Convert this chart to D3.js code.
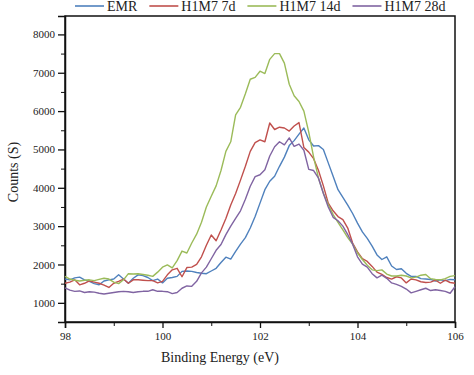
<!DOCTYPE html>
<meta charset="utf-8">
<style>
body { margin: 0; background: #fff; }
svg text { font-family: "Liberation Serif", "Times New Roman", serif; fill: #222; }
.axis text { font-size: 11px; }
.axis path, .axis line { stroke: #111; }
.series { fill: none; stroke-width: 1.4; stroke-linejoin: round; }
</style>
<svg width="474" height="375"></svg>
<script src="https://d3js.org/d3.v7.min.js"></script>
<script>
var energy = [98.0, 98.1, 98.2, 98.3, 98.4, 98.5, 98.6, 98.7, 98.8, 98.9,
  99.0, 99.1, 99.2, 99.3, 99.4, 99.5, 99.6, 99.7, 99.8, 99.9,
  100.0, 100.1, 100.2, 100.3, 100.4, 100.5, 100.6, 100.7, 100.8, 100.9,
  101.0, 101.1, 101.2, 101.3, 101.4, 101.5, 101.6, 101.7, 101.8, 101.9,
  102.0, 102.1, 102.2, 102.3, 102.4, 102.5, 102.6, 102.7, 102.8, 102.9,
  103.0, 103.1, 103.2, 103.3, 103.4, 103.5, 103.6, 103.7, 103.8, 103.9,
  104.0, 104.1, 104.2, 104.3, 104.4, 104.5, 104.6, 104.7, 104.8, 104.9,
  105.0, 105.1, 105.2, 105.3, 105.4, 105.5, 105.6, 105.7, 105.8, 105.9, 106.0];

var emr = [1620, 1600, 1650, 1670, 1600, 1560, 1500, 1470, 1570, 1600,
  1620, 1730, 1620, 1510, 1640, 1730, 1710, 1660, 1580, 1620,
  1520, 1640, 1660, 1690, 1820, 1830, 1820, 1790, 1770, 1760,
  1830, 1900, 2050, 2190, 2140, 2340, 2530, 2700, 2950, 3250,
  3600, 3950, 4170, 4300, 4560, 4800, 5100, 5230, 5400, 5560,
  5250, 5090, 5100, 5000, 4650, 4300, 3950, 3750, 3550, 3330,
  3080, 2850, 2680, 2480, 2250, 2130, 2200, 1960, 1870, 1890,
  1770, 1690, 1690, 1630, 1620, 1610, 1570, 1600, 1580, 1610, 1600];

var d7 = [1510, 1540, 1600, 1470, 1510, 1570, 1540, 1510, 1460, 1400,
  1510, 1560, 1620, 1510, 1600, 1600, 1590, 1580, 1580, 1520,
  1560, 1730, 1860, 1900, 1680, 1920, 1930, 2000, 2200, 2500,
  2770, 2620, 2900, 3200, 3550, 3850, 4200, 4560, 4950, 5180,
  5250, 5200, 5690, 5520, 5580, 5560, 5480, 5610, 5700, 5050,
  4930, 4760, 4450, 4050, 3600, 3400, 3250, 3170, 2950, 2560,
  2330, 2150, 2080, 1950, 1800, 1740, 1660, 1620, 1680, 1650,
  1520, 1620, 1600, 1550, 1530, 1540, 1590, 1510, 1590, 1530, 1510];

var d14 = [1690, 1620, 1590, 1570, 1590, 1600, 1580, 1610, 1640, 1620,
  1540, 1500, 1600, 1760, 1750, 1760, 1740, 1720, 1690, 1800,
  1930, 1990, 1910, 2100, 2350, 2300, 2560, 2790, 3100, 3500,
  3780, 4050, 4450, 4950, 5200, 5900, 6100, 6450, 6830, 6880,
  7040, 6980, 7350, 7500, 7500, 7250, 6700, 6400, 6250, 6000,
  5450, 4800, 4250, 3860, 3560, 3300, 3100, 2900, 2700, 2530,
  2300, 2130, 1980, 1860, 1840, 1860, 1750, 1700, 1700, 1720,
  1700, 1650, 1670, 1720, 1740, 1630, 1610, 1600, 1630, 1690, 1710];

var d28 = [1390, 1330, 1300, 1310, 1270, 1290, 1280, 1250, 1230, 1250,
  1270, 1290, 1300, 1290, 1270, 1290, 1300, 1300, 1340, 1300,
  1300, 1290, 1240, 1270, 1380, 1440, 1430, 1560, 1780, 1930,
  2150, 2370, 2520, 2780, 3000, 3200, 3400, 3700, 4040, 4290,
  4340, 4470, 4830, 5070, 5200, 5120, 5300, 5080, 5140, 4980,
  4480, 4450, 4250, 3850, 3500, 3230, 3140, 3000, 2780, 2530,
  2200, 2010, 1930, 1760, 1650, 1720, 1640, 1520, 1480, 1430,
  1360, 1260, 1300, 1340, 1380, 1320, 1340, 1320, 1300, 1250, 1420];

var names = ["EMR", "H1M7 7d", "H1M7 14d", "H1M7 28d"];
var colors = ["#4f81bd", "#c0504d", "#9bbb59", "#8064a2"];
var seriesValues = [emr, d7, d14, d28];
var xTicks = [98, 100, 102, 104, 106];
var yTicks = [1000, 2000, 3000, 4000, 5000, 6000, 7000, 8000];

var svg = d3.select("svg"),
    plotLeft = 65, plotRight = 455, plotTop = 16, plotBottom = 322;

var x = d3.scaleLinear().domain([98, 106]).range([plotLeft, plotRight]);
var y = d3.scaleLinear().domain([500, 8480]).range([plotBottom, plotTop]);

// frame
svg.append("rect")
    .attr("x", plotLeft).attr("y", plotTop)
    .attr("width", plotRight - plotLeft).attr("height", plotBottom - plotTop)
    .attr("fill", "none").attr("stroke", "#111").attr("stroke-width", 1.5);

// minor ticks
svg.append("g").attr("class", "axis")
    .attr("transform", "translate(0," + plotBottom + ")")
    .call(d3.axisBottom(x).tickValues([99, 101, 103, 105]).tickSize(4).tickFormat(""))
    .call(function(g) { g.select(".domain").remove(); });
svg.append("g").attr("class", "axis")
    .attr("transform", "translate(" + plotLeft + ",0)")
    .call(d3.axisLeft(y).tickValues([500, 1500, 2500, 3500, 4500, 5500, 6500, 7500]).tickSize(4).tickFormat(""))
    .call(function(g) { g.select(".domain").remove(); });

var xAxis = svg.append("g").attr("class", "axis")
    .attr("transform", "translate(0," + plotBottom + ")")
    .call(d3.axisBottom(x).tickValues(xTicks).tickSize(6).tickPadding(4).tickFormat(d3.format("d")));
xAxis.select(".domain").attr("stroke-width", 1.5);
xAxis.selectAll(".tick line").attr("stroke-width", 1.3);

var yAxis = svg.append("g").attr("class", "axis")
    .attr("transform", "translate(" + plotLeft + ",0)")
    .call(d3.axisLeft(y).tickValues(yTicks).tickSize(7).tickPadding(3).tickFormat(d3.format("d")));
yAxis.select(".domain").attr("stroke-width", 1.5);
yAxis.selectAll(".tick line").attr("stroke-width", 1.3);

// lines
var line = d3.line()
    .x(function(d, i) { return x(energy[i]); })
    .y(function(d) { return y(d); });

svg.append("g").selectAll("path")
    .data(seriesValues)
    .enter().append("path")
      .attr("class", "series")
      .attr("stroke", function(d, i) { return colors[i]; })
      .attr("d", line);

// axis titles
svg.append("text")
    .attr("x", 220).attr("y", 362)
    .attr("text-anchor", "middle")
    .style("font-size", "14px")
    .text("Binding Energy (eV)");

svg.append("text")
    .attr("transform", "translate(18,172) rotate(-90)")
    .attr("text-anchor", "middle")
    .style("font-size", "14px")
    .text("Counts (S)");

// legend along the top edge
var lx = 75;
names.forEach(function(n, i) {
  svg.append("line")
      .attr("x1", lx).attr("x2", lx + 29)
      .attr("y1", 6).attr("y2", 6)
      .attr("stroke", colors[i]).attr("stroke-width", 1.6);
  var t = svg.append("text")
      .attr("x", lx + 32).attr("y", 11)
      .style("font-size", "14px")
      .text(n);
  lx += 32 + t.node().getComputedTextLength() + 12;
});
</script>
